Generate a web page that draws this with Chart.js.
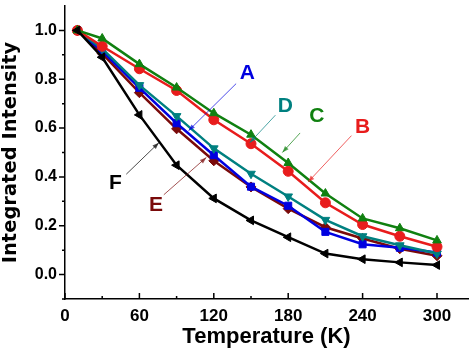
<!DOCTYPE html>
<html>
<head>
<meta charset="utf-8">
<script src="https://cdn.jsdelivr.net/npm/chart.js@4/dist/chart.umd.min.js"></script>
<style>
  html, body { margin: 0; padding: 0; background: #fff; }
</style>
</head>
<body>
<canvas id="grafico" width="474" height="354"></canvas>
<script>
// ===== datos =====
const temps = [10, 30, 60, 90, 120, 150, 180, 210, 240, 270, 300];
const serieA = [1.0, 0.915, 0.765, 0.62, 0.489, 0.36, 0.282, 0.175, 0.124, 0.11, 0.09];
const serieB = [1.0, 0.935, 0.843, 0.754, 0.634, 0.536, 0.423, 0.294, 0.205, 0.157, 0.114];
const serieC = [1.0, 0.967, 0.862, 0.766, 0.661, 0.573, 0.457, 0.332, 0.23, 0.19, 0.14];
const serieD = [1.0, 0.925, 0.776, 0.649, 0.517, 0.413, 0.32, 0.224, 0.157, 0.12, 0.086];
const serieE = [1.0, 0.905, 0.745, 0.597, 0.466, 0.359, 0.27, 0.194, 0.148, 0.106, 0.077];
const serieF = [1.0, 0.89, 0.654, 0.448, 0.312, 0.222, 0.153, 0.086, 0.063, 0.05, 0.039];

const xTicks = [0, 60, 120, 180, 240, 300];
const xMinor = [30, 90, 150, 210, 270];
const yTicks = [0, 0.2, 0.4, 0.6, 0.8, 1.0];
const yMinor = [-0.1, 0.1, 0.3, 0.5, 0.7, 0.9];

// etiquetas con flecha (coordenadas en unidades de datos)
const etiquetas = [
  { txt: "A", color: "#0000e0", tx: 147, ty: 0.823, x1: 138, y1: 0.782, x2: 99.6, y2: 0.589 },
  { txt: "D", color: "#008080", tx: 177.7, ty: 0.69, x1: 169.7, y1: 0.653, x2: 149, y2: 0.54 },
  { txt: "C", color: "#108010", tx: 203, ty: 0.649, x1: 189.6, y1: 0.58, x2: 175.3, y2: 0.5 },
  { txt: "B", color: "#e81c1c", tx: 240, ty: 0.605, x1: 231, y1: 0.569, x2: 196, y2: 0.379 },
  { txt: "E", color: "#7a0a0a", tx: 73.3, ty: 0.286, x1: 79.7, y1: 0.327, x2: 114, y2: 0.48 },
  { txt: "F", color: "#000000", tx: 40.6, ty: 0.375, x1: 49.4, y1: 0.411, x2: 75.7, y2: 0.54 }
];

function puntos(serie) {
  return temps.map((t, i) => ({ x: t, y: serie[i] }));
}

function serie(label, data, color, estilo, rot) {
  return {
    label, data: puntos(data),
    borderColor: color, backgroundColor: color,
    borderWidth: 2.5, pointStyle: estilo, pointRotation: rot || 0,
    pointRadius: 5, pointBorderWidth: 1, tension: 0
  };
}

function sinPadding(s) {
  s.paddingTop = 0; s.paddingBottom = 0;
}

// ===== plugins =====
const marcasEjes = {
  id: "marcasEjes",
  afterDraw(chart) {
    const ctx = chart.ctx, x = chart.scales.x, y = chart.scales.y;
    const area = chart.chartArea;
    ctx.save();
    ctx.strokeStyle = "#000";
    ctx.lineWidth = 1.5;
    ctx.beginPath();
    xTicks.forEach(v => { const p = x.getPixelForValue(v); ctx.moveTo(p, area.bottom); ctx.lineTo(p, area.bottom - 6); });
    xMinor.forEach(v => { const p = x.getPixelForValue(v); ctx.moveTo(p, area.bottom); ctx.lineTo(p, area.bottom - 3); });
    yTicks.forEach(v => { const p = y.getPixelForValue(v); ctx.moveTo(area.left, p); ctx.lineTo(area.left - 6, p); });
    yMinor.forEach(v => { const p = y.getPixelForValue(v); ctx.moveTo(area.left, p); ctx.lineTo(area.left - 3, p); });
    ctx.stroke();
    ctx.restore();
  }
};

const flechas = {
  id: "flechas",
  afterDatasetsDraw(chart) {
    const ctx = chart.ctx, x = chart.scales.x, y = chart.scales.y;
    ctx.save();
    etiquetas.forEach(e => {
      const ax = x.getPixelForValue(e.x1), ay = y.getPixelForValue(e.y1);
      const bx = x.getPixelForValue(e.x2), by = y.getPixelForValue(e.y2);
      ctx.strokeStyle = e.color;
      ctx.globalAlpha = 0.7;
      ctx.lineWidth = 1;
      ctx.beginPath(); ctx.moveTo(ax, ay); ctx.lineTo(bx, by); ctx.stroke();
      const ang = Math.atan2(by - ay, bx - ax);
      ctx.fillStyle = e.color;
      ctx.beginPath();
      ctx.moveTo(bx, by);
      ctx.lineTo(bx - 7 * Math.cos(ang - 0.35), by - 7 * Math.sin(ang - 0.35));
      ctx.lineTo(bx - 7 * Math.cos(ang + 0.35), by - 7 * Math.sin(ang + 0.35));
      ctx.closePath(); ctx.fill();
      ctx.globalAlpha = 1;
      ctx.font = "bold 21px Arial, 'Liberation Sans'";
      ctx.textAlign = "center"; ctx.textBaseline = "middle";
      ctx.fillText(e.txt, x.getPixelForValue(e.tx), y.getPixelForValue(e.ty));
    });
    ctx.restore();
  }
};

// ===== grafico =====
new Chart(document.getElementById("grafico"), {
  type: "line",
  data: {
    datasets: [
      serie("F", serieF, "#000000", "triangle", -90),
      serie("C", serieC, "#108010", "triangle", 0),
      serie("B", serieB, "#e81c1c", "circle", 0),
      serie("D", serieD, "#008080", "triangle", 180),
      serie("A", serieA, "#0000e0", "rect", 0),
      serie("E", serieE, "#7a0a0a", "rectRot", 0)
    ]
  },
  options: {
    responsive: false,
    animation: false,
    layout: { padding: { top: 2, right: 1, left: 0, bottom: 0 } },
    plugins: { legend: { display: false }, tooltip: { enabled: false } },
    scales: {
      x: {
        type: "linear", min: 0, max: 325,
        afterBuildTicks: s => { s.ticks = xTicks.map(v => ({ value: v })); },
        afterFit: s => { s.height = 55; s.paddingLeft = 0; s.paddingRight = 0; },
        grid: { display: false, drawTicks: false },
        border: { display: true, color: "#000", width: 1.5 },
        ticks: { color: "#000", padding: 7, font: { family: "Arial", weight: "bold", size: 17 } },
        title: { display: true, text: "Temperature (K)", color: "#000", padding: { top: 11 },
                 font: { family: "Arial", weight: "bold", size: 22 } }
      },
      y: {
        min: -0.1, max: 1.1,
        afterBuildTicks: s => { s.ticks = yTicks.map(v => ({ value: v })); },
        afterFit: s => { s.width = 65; sinPadding(s); },
        grid: { display: false, drawTicks: false },
        border: { display: true, color: "#000", width: 1.5 },
        ticks: { color: "#000", padding: 8, font: { family: "Arial", weight: "bold", size: 16 },
                 callback: v => v.toFixed(1) },
        title: { display: true, text: "Integrated Intensity", color: "#000", padding: { top: -1, bottom: 0 },
                 font: { family: "DejaVu Sans", weight: "bold", size: 19.5 } }
      }
    }
  },
  plugins: [marcasEjes, flechas]
});
</script>
</body>
</html>
